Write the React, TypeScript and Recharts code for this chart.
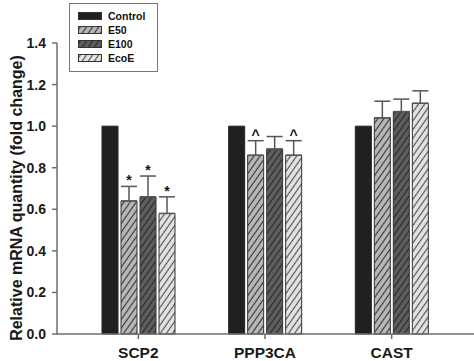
import { BarChart, Bar, XAxis, YAxis, ErrorBar, LabelList, Legend, Label } from "recharts";

const genes = ["SCP2", "PPP3CA", "CAST"];
const seriesNames = ["Control", "E50", "E100", "EcoE"];
const control = [1, 1, 1];
const e50 = [0.64, 0.86, 1.04];
const e50Err = [0.07, 0.07, 0.08];
const e100 = [0.66, 0.89, 1.07];
const e100Err = [0.1, 0.06, 0.06];
const ecoE = [0.58, 0.86, 1.11];
const ecoEErr = [0.08, 0.07, 0.06];
const e50Mark = ["*", "^", ""];
const e100Mark = ["*", "", ""];
const ecoEMark = ["*", "^", ""];
const yTicks = [0, 0.2, 0.4, 0.6, 0.8, 1.0, 1.2, 1.4];

const data = genes.map((g, i) => ({
  gene: g,
  control: control[i],
  e50: e50[i],
  e50Err: [0, e50Err[i]],
  e50Mark: e50Mark[i],
  e100: e100[i],
  e100Err: [0, e100Err[i]],
  e100Mark: e100Mark[i],
  ecoE: ecoE[i],
  ecoEErr: [0, ecoEErr[i]],
  ecoEMark: ecoEMark[i],
}));

const font = "'Liberation Sans', Arial, sans-serif";
const axisColor = "#6e6e6e";

// marker drawn just above the top of the error bar
const markLabel = (vals: number[], errs: number[]) => (props: any) => {
  const { x, y, width, height, value, index } = props;
  if (!value) return null;
  const perUnit = height / vals[index];
  const top = y - errs[index] * perUnit;
  return (
    <text
      x={x + width / 2}
      y={top - 1}
      textAnchor="middle"
      fontSize={value === "^" ? 14 : 14}
      fontWeight="bold"
      fontFamily={font}
      fill="#111"
    >
      {value}
    </text>
  );
};

const renderLegend = ({ payload }: any) => {
  const items = [...(payload || [])].sort(
    (a: any, b: any) => seriesNames.indexOf(a.value) - seriesNames.indexOf(b.value)
  );
  return (
    <div
      style={{
        width: 89,
        height: 69,
        boxSizing: "border-box",
        border: "1.5px solid #777",
        background: "#fff",
        paddingTop: 5,
        fontFamily: font,
      }}
    >
      {items.map((entry: any) => (
        <div
          key={entry.value}
          style={{ display: "flex", alignItems: "center", height: 14, marginLeft: 8 }}
        >
          <svg width={24} height={8} style={{ display: "block" }}>
            <rect x={0.5} y={0.5} width={23} height={7} fill={entry.color} stroke="#333" />
          </svg>
          <span style={{ marginLeft: 6, fontSize: 10.5, fontWeight: "bold", color: "#111" }}>
            {entry.value}
          </span>
        </div>
      ))}
    </div>
  );
};

const hatch = (id: string, bg: string, line: string) => (
  <pattern
    id={id}
    patternUnits="userSpaceOnUse"
    width={5}
    height={5}
    patternTransform="rotate(35)"
  >
    <rect width={5} height={5} fill={bg} />
    <line x1={2.5} y1={0} x2={2.5} y2={5} stroke={line} strokeWidth={1.2} />
  </pattern>
);

const App = () => {
  return (
    <div style={{ position: "absolute", left: 0, top: 0, width: 474, height: 361, background: "#fff" }}>
      <BarChart
        width={474}
        height={361}
        data={data}
        margin={{ top: 43, right: 0, bottom: 0, left: 0 }}
        barSize={16}
        barGap={3}
      >
        <defs>
          {hatch("hE50", "#b9b9b9", "#3a3a3a")}
          {hatch("hE100", "#5e5e5e", "#2a2a2a")}
          {hatch("hEcoE", "#e4e4e4", "#555")}
        </defs>
        <XAxis
          dataKey="gene"
          height={27}
          padding={{ left: 18, right: 19 }}
          tickSize={5}
          tickMargin={8}
          stroke={axisColor}
          strokeWidth={1.5}
          tick={{ fontSize: 15.5, fontWeight: "bold", fill: "#1a1a1a", fontFamily: font }}
        />
        <YAxis
          width={57}
          domain={[0, 1.4]}
          ticks={yTicks}
          tickFormatter={(v: number) => v.toFixed(1)}
          tickSize={5}
          tickMargin={6}
          stroke={axisColor}
          strokeWidth={1.5}
          tick={{ fontSize: 14, fontWeight: "bold", fill: "#1a1a1a", fontFamily: font }}
        >
          <Label
            content={() => (
              <text
                x={16}
                y={198}
                transform="rotate(-90 16 198)"
                textAnchor="middle"
                dominantBaseline="central"
                fontSize={16}
                fontWeight="bold"
                fontFamily={font}
                fill="#1a1a1a"
              >
                Relative mRNA quantity (fold change)
              </text>
            )}
          />
        </YAxis>
        <Legend
          layout="vertical"
          verticalAlign="middle"
          align="center"
          content={renderLegend}
          wrapperStyle={{ left: 69, top: 3, width: 89, height: 69 }}
        />
        <Bar dataKey="control" name="Control" fill="#221f20" stroke="#222" isAnimationActive={false} />
        <Bar dataKey="e50" name="E50" fill="url(#hE50)" stroke="#333" isAnimationActive={false}>
          <ErrorBar dataKey="e50Err" direction="y" width={8} stroke="#555" strokeWidth={1.5} />
          <LabelList dataKey="e50Mark" content={markLabel(e50, e50Err)} />
        </Bar>
        <Bar dataKey="e100" name="E100" fill="url(#hE100)" stroke="#333" isAnimationActive={false}>
          <ErrorBar dataKey="e100Err" direction="y" width={8} stroke="#555" strokeWidth={1.5} />
          <LabelList dataKey="e100Mark" content={markLabel(e100, e100Err)} />
        </Bar>
        <Bar dataKey="ecoE" name="EcoE" fill="url(#hEcoE)" stroke="#333" isAnimationActive={false}>
          <ErrorBar dataKey="ecoEErr" direction="y" width={8} stroke="#555" strokeWidth={1.5} />
          <LabelList dataKey="ecoEMark" content={markLabel(ecoE, ecoEErr)} />
        </Bar>
      </BarChart>
    </div>
  );
};

export default App;
